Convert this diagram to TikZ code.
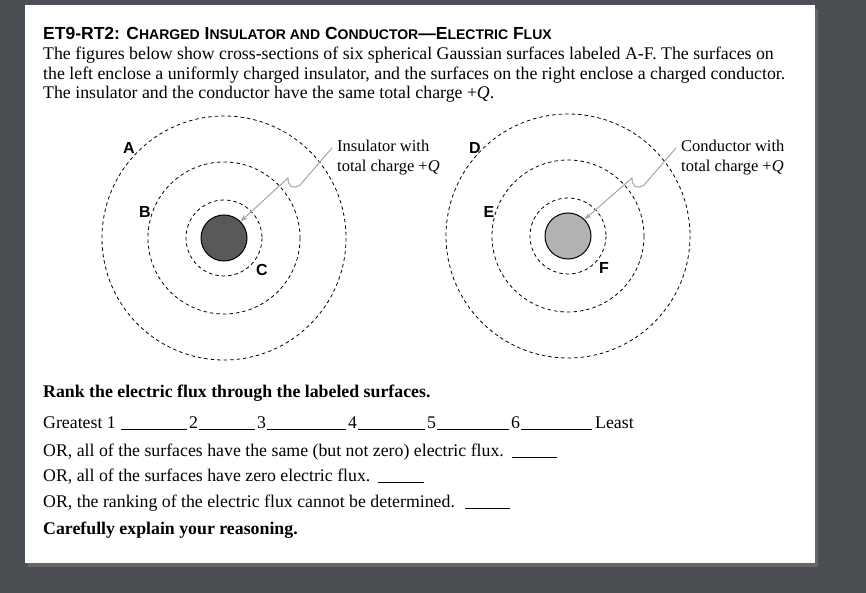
\documentclass[tikz,border=0pt]{standalone}
\usepackage{fontspec}
\usetikzlibrary{arrows.meta}
\setmainfont{Liberation Serif}
\newfontfamily\titlefont{Liberation Sans}
\begin{document}
\begin{tikzpicture}[x=1pt,y=-1pt,
  txt/.style={anchor=base west,inner sep=0pt,font=\fontsize{17.8}{20}\selectfont},
  lbl/.style={anchor=base west,inner sep=0pt,font=\fontsize{16.5}{18}\selectfont},
  let/.style={inner sep=0pt,font=\titlefont\bfseries\fontsize{16}{17}\selectfont},
  gs/.style={draw,dashed,dash pattern=on 3.5pt off 3pt,line width=0.8pt},
  lead/.style={draw=gray!70,line width=1pt,-{Stealth[length=7pt]}}]
\useasboundingbox (0,0) rectangle (866,593);
\fill[fill={rgb,255:red,75;green,78;blue,82}] (0,0) rectangle (866,593);
\fill[black!60] (28,9) rectangle (818,567);
\fill[white] (25,5) coordinate (pg) rectangle (815,563);
% title
\node[anchor=base west,inner sep=0pt,font=\titlefont\bfseries\fontsize{17.5}{19}\selectfont] (title) at (43,40)
 {ET9-RT2: C{\fontsize{14}{15}\selectfont HARGED} I{\fontsize{14}{15}\selectfont NSULATOR AND} C{\fontsize{14}{15}\selectfont ONDUCTOR}—E{\fontsize{14}{15}\selectfont LECTRIC} F{\fontsize{14}{15}\selectfont LUX}};
\node[txt] (l1) at (43,60) {The figures below show cross-sections of six spherical Gaussian surfaces labeled A-F. The surfaces on};
\node[txt] (l2) at (43,79.5) {the left enclose a uniformly charged insulator, and the surfaces on the right enclose a charged conductor.};
\node[txt] (l3) at (43,99) {The insulator and the conductor have the same total charge +\textit{Q}.};
% left figure
\node[circle,draw,line width=1pt,fill=black!65,minimum size=46pt,inner sep=0pt] (ci) at (224,238) {};
\draw[gs] (224,238) circle (38);
\draw[gs] (224,238) circle (76);
\draw[gs] (224,238) circle (122);
\node[let] (A) at (129,148) {A};
\node[let] (B) at (145,212) {B};
\node[let] (C) at (262,270) {C};
\node[lbl] (ti) at (337,152) {Insulator with};
\node[lbl] (ti2) at (337,172) {total charge +\textit{Q}};
\coordinate (si) at (332,148);
\draw[lead] (si) -- (300,185) .. controls (292,190) and (288,186) .. (288,178) -- (ci.north east);
% right figure
\node[circle,draw,line width=1pt,fill=black!30,minimum size=46pt,inner sep=0pt] (cc) at (568,236) {};
\draw[gs] (568,236) circle (38);
\draw[gs] (568,236) circle (76);
\draw[gs] (568,236) circle (122);
\node[let] (D) at (475,148) {D};
\node[let] (E) at (489,212) {E};
\node[let] (F) at (604,268) {F};
\node[lbl] (tc) at (681,152) {Conductor with};
\node[lbl] (tc2) at (681,172) {total charge +\textit{Q}};
\coordinate (sc) at (676,148);
\draw[lead] (sc) -- (644,185) .. controls (636,190) and (632,186) .. (632,178) -- (cc.north east);
% questions
\node[txt,font=\bfseries\fontsize{17.8}{20}\selectfont] (rank) at (43,397) {Rank the electric flux through the labeled surfaces.};
\node[txt] (g) at (43,428) {Greatest 1};
\node[txt] (n2) at (189,428) {2};
\node[txt] (n3) at (257,428) {3};
\node[txt] (n4) at (348,428) {4};
\node[txt] (n5) at (427,428) {5};
\node[txt] (n6) at (511,428) {6};
\node[txt] (ls) at (595,428) {Least};
\foreach \a/\b in {121/187,199/255,267/346,358/425,437/509,521/592}
  \draw[line width=0.7pt] (\a,429) -- (\b,429);
\node[txt] (o1) at (43,456) {OR, all of the surfaces have the same (but not zero) electric flux.};
\draw[line width=0.7pt] (512,457) -- (557,457);
\node[txt] (o2) at (43,481) {OR, all of the surfaces have zero electric flux.};
\draw[line width=0.7pt] (378,482) -- (424,482);
\node[txt] (o3) at (43,507) {OR, the ranking of the electric flux cannot be determined.};
\draw[line width=0.7pt] (465,508) -- (510,508);
\node[txt,font=\bfseries\fontsize{17.8}{20}\selectfont] (exp) at (43,534) {Carefully explain your reasoning.};
\end{tikzpicture}
\end{document}
